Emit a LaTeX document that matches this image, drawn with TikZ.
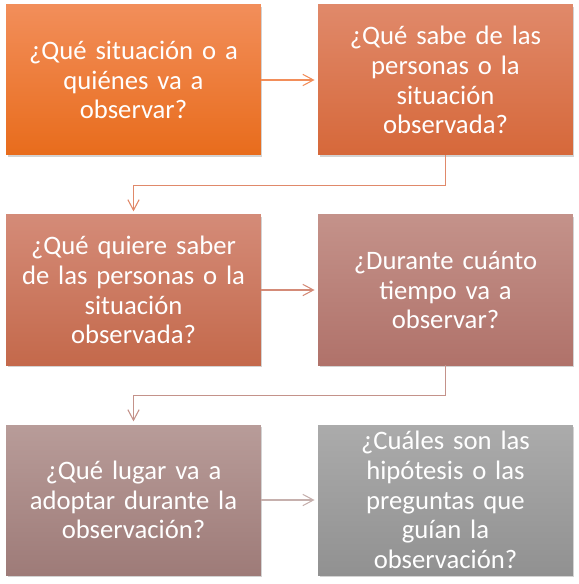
\documentclass[tikz,border=0pt]{standalone}
\usepackage{fontspec}
\setmainfont{Carlito}
\usepackage{tikz}
\usetikzlibrary{arrows.meta,shadows}
\definecolor{naraA}{HTML}{F28E5A}\definecolor{naraB}{HTML}{E86C1C}
\definecolor{ladrA}{HTML}{E0896A}\definecolor{ladrB}{HTML}{D6683A}
\definecolor{salmA}{HTML}{D48B78}\definecolor{salmB}{HTML}{C4694B}
\definecolor{rosaA}{HTML}{C4928A}\definecolor{rosaB}{HTML}{B0726A}
\definecolor{malvA}{HTML}{B89C99}\definecolor{malvB}{HTML}{9E7B78}
\definecolor{grisA}{HTML}{ABABAB}\definecolor{grisB}{HTML}{919191}
\tikzset{
  caja/.style 2 args={minimum width=191pt, minimum height=112.5pt, text width=180pt,
    align=center, text=white, top color=#1, bottom color=#2,
    font=\fontsize{20}{22.3}\selectfont,
    drop shadow={shadow xshift=1.2pt, shadow yshift=-1.2pt, opacity=0.35}},
  flecha/.style={->,>={Straight Barb[length=8pt,width=8.5pt]}, line width=0.8pt, shorten >=2.5pt}
}

\begin{document}
\begin{tikzpicture}[x=0.75pt,y=-0.75pt]
        \useasboundingbox (0,0) rectangle (578,584);
        \node[caja={naraA}{naraB}] (Situ) at (133.5,80) {¿Qué situación o a\\ quiénes va a\\ observar?};
        \node[caja={ladrA}{ladrB}] (Sabe) at (445.5,80) {¿Qué sabe de las\\ personas o la\\ situación\\ observada?};
        \node[caja={salmA}{salmB}] (Quie) at (133.5,290) {¿Qué quiere saber\\ de las personas o la\\ situación\\ observada?};
        \node[caja={rosaA}{rosaB}] (Dura) at (445.5,290) {¿Durante cuánto\\ tiempo va a\\ observar?};
        \node[caja={malvA}{malvB}] (Luga) at (133.5,500) {¿Qué lugar va a\\ adoptar durante la\\ observación?};
        \node[caja={grisA}{grisB}] (Hipo) at (445.5,500) {¿Cuáles son las\\ hipótesis o las\\ preguntas que\\ guían la\\ observación?};
        \draw[flecha,draw=naraA] (Situ) -- (Sabe);
        \draw[flecha,draw=ladrA] (Sabe.south) -- ++(0,30) -| (Quie.north);
        \draw[flecha,draw=salmA] (Quie) -- (Dura);
        \draw[flecha,draw=rosaA] (Dura.south) -- ++(0,30) -| (Luga.north);
        \draw[flecha,draw=malvA!80] (Luga) -- (Hipo);
      \end{tikzpicture}
\end{document}
